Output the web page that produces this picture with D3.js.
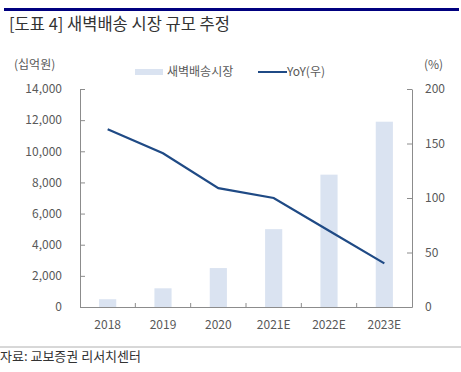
<!DOCTYPE html>
<html><head><meta charset="utf-8">
<script src="https://cdn.jsdelivr.net/npm/d3@7/dist/d3.min.js"></script>
<style>body{margin:0;background:#fff}svg{display:block}text{font-family:"Noto Sans CJK KR","Noto Sans",sans-serif}</style>
</head><body>
<script>
const categories = ["2018","2019","2020","2021E","2022E","2023E"];
const marketSize = [500,1200,2500,5000,8500,11900];
const yoy = [163,141,109,100,70,40];
const leftTicks = [0,2000,4000,6000,8000,10000,12000,14000];
const rightTicks = [0,50,100,150,200];

const W=461,H=372;
const svg=d3.select("body").append("svg").attr("width",W).attr("height",H);
const m={l:80,r:412,t:89,b:307};
const x=d3.scaleBand().domain(categories).range([m.l,m.r]).paddingInner(0.69).paddingOuter(0.345);
const xb=d3.scaleBand().domain(categories).range([m.l,m.r]);
const yL=d3.scaleLinear().domain([0,14000]).range([m.b,m.t]);
const yR=d3.scaleLinear().domain([0,200]).range([m.b,m.t]);

// title
svg.append("rect").attr("x",4).attr("y",8).attr("width",455).attr("height",3).attr("fill","#00007f");
svg.append("text").attr("x",9).attr("y",30).attr("font-size",16.5).attr("fill","#333").text("[도표 4] 새벽배송 시장 규모 추정");

// bars
svg.selectAll(".bar").data(categories).enter().append("rect")
 .attr("x",d=>x(d)).attr("width",x.bandwidth())
 .attr("y",(d,i)=>yL(marketSize[i])).attr("height",(d,i)=>m.b-yL(marketSize[i]))
 .attr("fill","#dae3f1");

// line
const line=d3.line().x((d,i)=>xb(categories[i])+xb.bandwidth()/2).y(d=>yR(d));
svg.append("path").datum(yoy).attr("d",line).attr("fill","none").attr("stroke","#1f4a85").attr("stroke-width",2.2);

const axColor="#8c8c8c", lblColor="#595959";
function style(g){g.select(".domain").attr("stroke",axColor);g.selectAll(".tick line").attr("stroke",axColor);g.selectAll("text").attr("fill",lblColor).attr("font-size",12).attr("font-family","'Open Sans','Noto Sans CJK KR',sans-serif");}
const gl=svg.append("g").attr("transform",`translate(${m.l},0)`).call(d3.axisLeft(yL).tickValues(leftTicks).tickSize(-5).tickSizeOuter(-5).tickPadding(18).tickFormat(d3.format(",")));
style(gl);
const gr=svg.append("g").attr("transform",`translate(${m.r},0)`).call(d3.axisRight(yR).tickValues(rightTicks).tickSize(-5).tickSizeOuter(0).tickPadding(13));
style(gr);
const gb=svg.append("g").attr("transform",`translate(0,${m.b})`).call(d3.axisBottom(xb).tickSize(0).tickSizeOuter(0).tickPadding(13));
style(gb);
gb.selectAll(".tick text").attr("dy","0.71em");
// bottom inner ticks at band boundaries
svg.selectAll(".bt").data(categories.slice(1)).enter().append("line")
 .attr("x1",d=>xb(d)).attr("x2",d=>xb(d)).attr("y1",m.b).attr("y2",m.b-4).attr("stroke",axColor);

// units
svg.append("text").attr("x",14).attr("y",69).attr("font-size",12).attr("fill",lblColor).text("(십억원)");
svg.append("text").attr("x",424).attr("y",69).attr("font-size",12).attr("fill",lblColor).text("(%)");

// legend
svg.append("rect").attr("x",135).attr("y",69).attr("width",28).attr("height",6).attr("fill","#dae3f1");
svg.append("text").attr("x",167).attr("y",76).attr("font-size",12).attr("fill",lblColor).text("새벽배송시장");
svg.append("line").attr("x1",258).attr("x2",287).attr("y1",72).attr("y2",72).attr("stroke","#1f4a85").attr("stroke-width",2);
svg.append("text").attr("x",287).attr("y",76).attr("font-size",12).attr("fill",lblColor).text("YoY(우)");

// footer
svg.append("line").attr("x1",0).attr("x2",461).attr("y1",347).attr("y2",347).attr("stroke","#b0b0b0");
svg.append("text").attr("x",0).attr("y",361).attr("font-size",13).attr("fill","#333").text("자료: 교보증권 리서치센터");
</script>
</body></html>
